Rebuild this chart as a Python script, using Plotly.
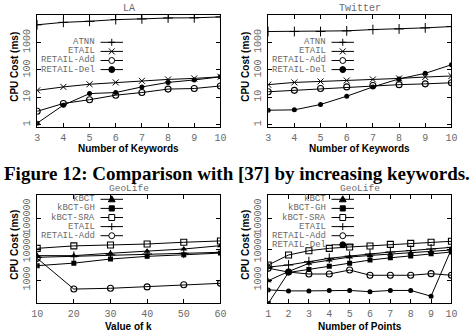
import plotly.graph_objects as go

W, H = 474, 331

# ---------------- data ----------------
keywords = [3, 4, 5, 6, 7, 8, 9, 10]
la_atnn = [4400, 5400, 5900, 6800, 7200, 7800, 7900, 8500]
la_etail = [18, 24, 30, 35, 40, 45, 49, 56]
la_add = [3.1, 6, 8.2, 12, 15, 20, 21, 26]
la_del = [1.15, 5.2, 13.7, 15, 24, 35, 43, 56]

tw_atnn = [2500, 2500, 2500, 2650, 2950, 3100, 3400, 3800]
tw_etail = [29, 35, 38, 41, 45, 49, 55, 60]
tw_add = [16, 18, 21, 24, 27, 29, 31, 34]
tw_del = [3.4, 3.5, 5.5, 11, 24, 47, 75, 154]

k_values = [10, 20, 30, 40, 50, 60]
k_kbct = [6100, 6100, 7300, 8400, 10000, 12800]
k_gh = [2900, 3500, 4750, 5800, 6500, 7400]
k_sra = [10500, 12600, 13500, 14500, 16500, 18200]
k_etail = [5400, 5800, 6500, 6900, 7300, 7800]
k_add = [5000, 510, 540, 600, 700, 780]

points = [1, 2, 3, 4, 5, 6, 7, 8, 9, 10]
p_kbct = [950, 1880, 3450, 4400, 5500, 6200, 6900, 7400, 8300, 9300]
p_gh = [175, 1750, 2200, 2800, 3450, 4400, 5200, 5900, 7000, 8000]
p_sra = [3050, 6400, 8800, 10500, 11600, 12500, 14100, 15200, 16500, 17700]
p_etail = [2600, 3050, 3900, 5000, 5900, 6900, 8000, 8900, 10000, 11300]
p_add = [2400, 1800, 1560, 1560, 2100, 1420, 1420, 1420, 1600, 1420]
p_del = [480, 445, 445, 460, 460, 420, 460, 460, 300, 10000]

top_yticks = [1, 10, 100, 1000, 10000]
bot_yticks = [1000, 10000, 100000]

caption = "Figure 12: Comparison with [37] by increasing keywords."

# ---------------- styles ----------------
MONO = "Liberation Mono"
SANS = "Liberation Sans"
GREY = "#6a6a6a"

STY = {
    "ATNN": dict(symbol="cross-thin-open", size=7, line=dict(width=1, color="black")),
    "ETAILx": dict(symbol="x-thin-open", size=6, line=dict(width=1, color="black")),
    "ETAIL+": dict(symbol="cross-thin-open", size=7, line=dict(width=1, color="black")),
    "Add": dict(symbol="circle-open", size=6, color="black", line=dict(width=1.1, color="black")),
    "Del": dict(symbol="circle", size=5, color="black"),
    "kBCT": dict(symbol="triangle-up", size=6, color="black"),
    "GH": dict(symbol="square", size=5, color="black"),
    "SRA": dict(symbol="square-open", size=6, color="black", line=dict(width=1.1, color="black")),
}


def px(x):
    return x / W


def py(y):
    return 1 - y / H


# plot frames in pixels: (left, right, top, bottom)
frames = {
    1: (32, 220, 15, 127),
    2: (269, 457, 15, 127),
    3: (32, 220, 195, 303),
    4: (269, 457, 195, 303),
}

fig = go.Figure()


def add_series(idx, x, y, sty):
    xa = "x" if idx == 1 else f"x{idx}"
    ya = "y" if idx == 1 else f"y{idx}"
    fig.add_trace(go.Scatter(x=x, y=y, mode="lines+markers", xaxis=xa, yaxis=ya,
                             line=dict(color="black", width=1), marker=STY[sty],
                             showlegend=False, hoverinfo="x+y"))


add_series(1, keywords, la_atnn, "ATNN")
add_series(1, keywords, la_etail, "ETAILx")
add_series(1, keywords, la_add, "Add")
add_series(1, keywords, la_del, "Del")

add_series(2, keywords, tw_atnn, "ATNN")
add_series(2, keywords, tw_etail, "ETAILx")
add_series(2, keywords, tw_add, "Add")
add_series(2, keywords, tw_del, "Del")

add_series(3, k_values, k_kbct, "kBCT")
add_series(3, k_values, k_gh, "GH")
add_series(3, k_values, k_sra, "SRA")
add_series(3, k_values, k_etail, "ETAIL+")
add_series(3, k_values, k_add, "Add")

add_series(4, points, p_kbct, "kBCT")
add_series(4, points, p_gh, "GH")
add_series(4, points, p_sra, "SRA")
add_series(4, points, p_etail, "ETAIL+")
add_series(4, points, p_add, "Add")
add_series(4, points, p_del, "Del")

tickfont = dict(family=MONO, size=10, color=GREY)
xranges = {1: [3, 10], 2: [3, 10], 3: [10, 60], 4: [1, 10]}
xticks = {1: keywords, 2: keywords, 3: k_values, 4: points}
yranges = {1: [-0.08, 4.0], 2: [-0.08, 4.0], 3: [2.258, 5.742], 4: [2.258, 5.742]}
yticks = {1: top_yticks, 2: top_yticks, 3: bot_yticks, 4: bot_yticks}

layout = {}
for i, (l, r, t, b) in frames.items():
    sx = "" if i == 1 else str(i)
    layout[f"xaxis{sx}"] = dict(
        domain=[px(l), px(r)], range=xranges[i], tickvals=xticks[i],
        anchor=f"y{sx}", ticks="inside", ticklen=4, mirror="ticks", showline=True,
        linecolor="black", linewidth=1, tickcolor="black", showgrid=False, zeroline=False,
        tickfont=tickfont, fixedrange=True, ticklabelstandoff=1)
    layout[f"yaxis{sx}"] = dict(
        domain=[py(b), py(t)], type="log", range=yranges[i], tickvals=yticks[i],
        ticktext=[str(v) for v in yticks[i]],
        anchor=f"x{sx}", ticks="inside", ticklen=4, mirror="ticks", showline=True,
        linecolor="black", linewidth=1, tickcolor="black", showgrid=False, zeroline=False,
        tickfont=tickfont, tickangle=-90, fixedrange=True, ticklabelstandoff=2)

fig.update_layout(**layout)
fig.update_layout(width=W, height=H, margin=dict(l=0, r=0, t=0, b=0),
                  paper_bgcolor="white", plot_bgcolor="white", showlegend=False)

ann = []


def text(x, y, s, font, xanchor="center", angle=0):
    ann.append(dict(x=px(x), y=py(y), xref="paper", yref="paper", text=s, showarrow=False,
                    xanchor=xanchor, yanchor="middle", font=font, textangle=angle,
                    borderpad=0))


titlefont = dict(family=MONO, size=10, color=GREY)
axfont = dict(family=SANS, size=10, color="black")
text(126, 8, "LA", titlefont)
text(363, 8, "Twitter", titlefont)
text(126, 188, "GeoLife", dict(family=MONO, size=9.5, color=GREY))
text(363, 188, "GeoLife", dict(family=MONO, size=9.5, color=GREY))

text(126, 148, "<b>Number of Keywords</b>", axfont)
text(363, 148, "<b>Number of Keywords</b>", axfont)
text(126, 326, "<b>Value of k</b>", axfont)
text(363, 326, "<b>Number of Points</b>", axfont)

for xx, yy in [(8, 67), (245, 67), (8, 245), (245, 245)]:
    text(xx, yy, "<b>CPU Cost (ms)</b>", axfont, angle=-90)

text(237, 173, "<b>" + caption + "</b>",
     dict(family="Liberation Serif", size=19, color="black"))

shapes = []


def key_marker(cx, cy, sty):
    r = 3
    blk = dict(color="black", width=1)
    if sty in ("Add", "Del"):
        shapes.append(dict(type="circle", xref="paper", yref="paper",
                           x0=px(cx - r), x1=px(cx + r), y0=py(cy + r), y1=py(cy - r),
                           fillcolor="black" if sty == "Del" else "white", line=blk))
    elif sty in ("GH", "SRA"):
        rr = 2.6 if sty == "GH" else 3
        shapes.append(dict(type="rect", xref="paper", yref="paper",
                           x0=px(cx - rr), x1=px(cx + rr), y0=py(cy + rr), y1=py(cy - rr),
                           fillcolor="black" if sty == "GH" else "white", line=blk))
    elif sty == "kBCT":
        path = (f"M {px(cx)},{py(cy - 3.5)} L {px(cx + 3.5)},{py(cy + 2.5)} "
                f"L {px(cx - 3.5)},{py(cy + 2.5)} Z")
        shapes.append(dict(type="path", xref="paper", yref="paper", path=path,
                           fillcolor="black", line=blk))
    elif sty in ("ATNN", "ETAIL+"):
        path = (f"M {px(cx - 3.5)},{py(cy)} L {px(cx + 3.5)},{py(cy)} "
                f"M {px(cx)},{py(cy - 3.5)} L {px(cx)},{py(cy + 3.5)}")
        shapes.append(dict(type="path", xref="paper", yref="paper", path=path, line=blk))
    elif sty == "ETAILx":
        path = (f"M {px(cx - 3)},{py(cy - 3)} L {px(cx + 3)},{py(cy + 3)} "
                f"M {px(cx - 3)},{py(cy + 3)} L {px(cx + 3)},{py(cy - 3)}")
        shapes.append(dict(type="path", xref="paper", yref="paper", path=path, line=blk))


def add_key(left, top, entries):
    keyfont = dict(family=MONO, size=9, color=GREY)
    for i, (label, sty) in enumerate(entries):
        y = top + 9.1 * i
        text(left + 60, y, label, keyfont, xanchor="right")
        shapes.append(dict(type="line", xref="paper", yref="paper",
                           x0=px(left + 65), x1=px(left + 88), y0=py(y), y1=py(y),
                           line=dict(color="black", width=1)))
        key_marker(left + 76.5, y, sty)


top_keys = [("ATNN", "ATNN"), ("ETAIL", "ETAILx"), ("RETAIL-Add", "Add"), ("RETAIL-Del", "Del")]
add_key(32, 42.3, top_keys)
add_key(269, 42.3, top_keys)
add_key(32, 199.3, [("kBCT", "kBCT"), ("kBCT-GH", "GH"), ("kBCT-SRA", "SRA"),
                    ("ETAIL", "ETAIL+"), ("RETAIL-Add", "Add")])
add_key(269, 199.3, [("kBCT", "kBCT"), ("kBCT-GH", "GH"), ("kBCT-SRA", "SRA"),
                     ("ETAIL", "ETAIL+"), ("RETAIL-Add", "Add"), ("RETAIL-Del", "Del")])

fig.update_layout(annotations=ann, shapes=shapes)
fig.write_html("out.html")
